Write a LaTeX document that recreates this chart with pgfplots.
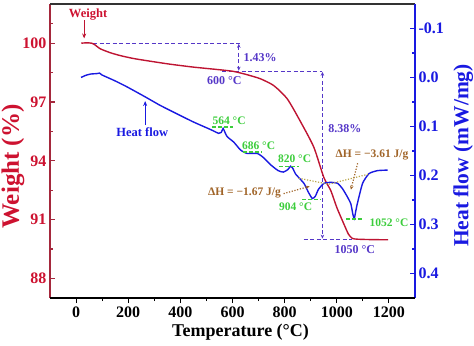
\documentclass[border=0pt]{standalone}
\usepackage{fontspec}
\setmainfont{Liberation Serif}
\usepackage{pgfplots}
\pgfplotsset{compat=1.18}
\usetikzlibrary{arrows.meta}
\definecolor{wred}{RGB}{205,18,48}
\definecolor{wline}{RGB}{190,20,50}
\definecolor{wspine}{RGB}{165,40,60}
\definecolor{hblue}{RGB}{25,25,225}
\definecolor{pur}{RGB}{85,55,200}
\definecolor{grn}{RGB}{60,205,60}
\definecolor{brn}{RGB}{160,100,40}
\definecolor{olv}{RGB}{185,165,75}
\newcommand{\fs}[1]{\fontsize{#1bp}{#1bp}\selectfont\bfseries}
\tikzset{
  purd/.style={pur, line width=1.3pt, dash pattern=on 4bp off 2.5bp},
  grd/.style={grn, line width=1.3pt, dash pattern=on 4bp off 2bp},
  brd/.style={brn, line width=1.2pt, dash pattern=on 1.2bp off 1.6bp},
  olvd/.style={olv, line width=1.2pt, dash pattern=on 1.2bp off 1.6bp},
}
\begin{document}
\begin{tikzpicture}
\pgfplotsset{
  every axis/.append style={
    scale only axis, width=365bp, height=294bp,
    xmin=-100, xmax=1300, clip=false,
    /pgf/number format/assume math mode=true,
    /pgf/number format/1000 sep={},
    major tick length=5bp, minor tick length=3bp,
    axis line style={line width=1.2pt, -},
  },
}
% ---- weight axis (left)
\begin{axis}[
  axis y line*=left, axis x line=none,
  ymin=87, ymax=102,
  ytick={88,91,94,97,100},
  minor ytick={89.5,92.5,95.5,98.5,101},
  tick align=inside,
  y axis line style={wspine},
  tick style={wspine, line width=1.1pt},
  yticklabel style={font=\fs{16}, text=wred},
]
\coordinate (BL) at (rel axis cs:0,0);
\coordinate (TR) at (rel axis cs:1,1);
% dashed annotations
\draw[purd] (65,100) -- (630,100);
\draw[purd, {Stealth[length=4bp,width=3.5bp]}-{Stealth[length=4bp,width=3.5bp]}] (624,99.97) -- (624,98.6);
\draw[purd] (560,98.57) -- (945,98.57);
\draw[purd, {Stealth[length=4bp,width=3.5bp]}-{Stealth[length=4bp,width=3.5bp]}] (945,98.54) -- (945,90.03);
\draw[purd] (873,90.0) -- (1060,90.0);
\addplot[wline, line width=1.4pt, smooth, tension=0.4] coordinates {
(20,100.0) (40,100.02) (60,100.0) (70,99.94) (92,99.72) (130,99.52) (169,99.37)
(220,99.22) (285,99.08) (360,98.93) (450,98.78) (540,98.66) (600,98.57)
(640,98.45) (680,98.3) (708,98.18) (758,97.84) (810,97.16) (862,95.97)
(912,94.69) (950,93.16) (977,92.48) (1000,91.62) (1027,90.78) (1045,90.25)
(1060,90.04) (1080,90.0) (1130,89.98) (1197,89.97)
};
\node[wred, font=\fs{12.5}] at (46,101.47) {Weight};
\draw[wline, line width=1.2pt, -{Stealth[length=5bp,width=4bp]}] (31,101.16) -- (31,100.24);
\node[pur, font=\fs{12}] at (706,99.26) {1.43\%};
\node[pur, font=\fs{12}] at (1031,95.63) {8.38\%};
\node[pur, font=\fs{12}] at (569,98.1) {600 °C};
\node[pur, font=\fs{12}] at (1069,89.47) {1050 °C};
\node[wred, font=\fs{25}, rotate=90] at (-242,93.71) {Weight (\%)};
\node[hblue, font=\fs{21.5}, rotate=90] at (1485,94.27) {Heat flow (mW/mg)};
\node[black, font=\fs{18}] at (631,85.25) {Temperature (°C)};
\end{axis}
% ---- heat flow axis (right)
\begin{axis}[
  axis y line*=right, axis x line*=top,
  xtick=\empty,
  ymin=-0.15, ymax=0.45, y dir=reverse,
  ytick={-0.1,0,0.1,0.2,0.3,0.4},
  minor ytick={-0.05,0.05,0.15,0.25,0.35},
  tick align=inside,
  y axis line style={hblue},
  x axis line style={black!80},
  tick style={hblue, line width=1.1pt},
  yticklabel style={font=\fs{16}, text=hblue, /pgf/number format/.cd, fixed, fixed zerofill, precision=1},
]
\addplot[hblue, line width=1.4pt, smooth, tension=0.35] coordinates {
(19,0.000) (35,-0.004) (55,-0.007) (80,-0.008) (90,-0.009) (100,-0.005)
(150,0.007) (195,0.019) (260,0.038) (323,0.057) (390,0.075) (451,0.091)
(515,0.106) (547,0.114) (557,0.112) (564,0.104) (572,0.113) (580,0.121)
(605,0.132) (631,0.148) (656,0.155) (695,0.155) (720,0.164) (746,0.178)
(775,0.190) (795,0.193) (812,0.188) (823,0.181) (832,0.186) (842,0.197)
(874,0.216) (890,0.233) (906,0.247) (918,0.242) (930,0.228) (951,0.216)
(977,0.214) (1003,0.216) (1022,0.227) (1041,0.244) (1054,0.258) (1062,0.280)
(1067,0.288) (1072,0.275) (1079,0.257) (1099,0.216) (1124,0.196) (1157,0.190)
(1195,0.189)
};
\node[hblue, font=\fs{12.5}] at (254,0.112) {Heat flow};
\draw[hblue, line width=1.2pt, -{Stealth[length=5bp,width=4bp]}] (265,0.097) -- (265,0.048);
% green peak labels
\draw[grd] (523,0.101) -- (600,0.101);
\node[grn, font=\fs{11.5}] at (587,0.089) {564 °C};
\draw[grd] (641,0.152) -- (714,0.152);
\node[grn, font=\fs{11.5}] at (700,0.140) {686 °C};
\draw[grd] (778,0.182) -- (855,0.182);
\node[grn, font=\fs{11.5}] at (838,0.165) {820 °C};
\draw[grd] (868,0.249) -- (938,0.249);
\node[grn, font=\fs{11.5}] at (842,0.263) {904 °C};
\draw[grd] (1035,0.289) -- (1099,0.289);
\node[grn, font=\fs{11.5}] at (1200,0.297) {1052 °C};
% enthalpy annotations
\draw[olvd] (854,0.2055) -- (969,0.2178) -- (1123,0.197);
\node[brn, font=\fs{11.5}] at (646,0.236) {ΔH = −1.67 J/g};
\draw[brd, -{Stealth[length=4bp,width=3.5bp]}] (796,0.237) -- (896,0.222);
\node[brn, font=\fs{11.5}] at (1135,0.159) {ΔH = −3.61 J/g};
\draw[brd, -{Stealth[length=4bp,width=3.5bp]}] (1080,0.175) -- (1054,0.229);
\end{axis}
% ---- x axis (bottom)
\begin{axis}[
  axis x line*=bottom, axis y line=none,
  ymin=0, ymax=1,
  xtick={0,200,...,1200},
  minor xtick={100,300,...,1100},
  tick align=outside,
  x axis line style={black},
  tick style={black, line width=1.1pt},
  xticklabel style={font=\fs{16}, text=black},
]
\end{axis}
\pgfresetboundingbox
\path ([shift={(-50bp,-48bp)}]BL) rectangle ([shift={(59bp,4bp)}]TR);
\end{tikzpicture}
\end{document}
